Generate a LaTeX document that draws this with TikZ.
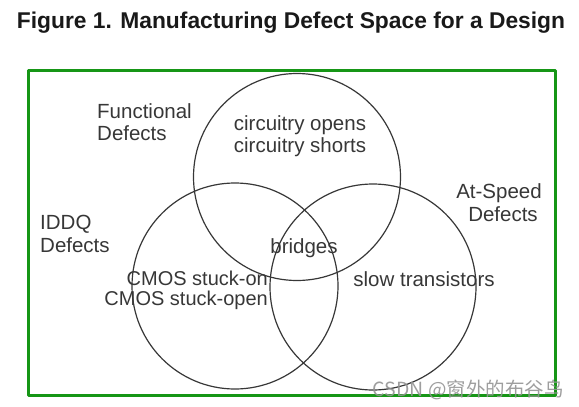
\documentclass[tikz,border=0pt]{standalone}
\usepackage{fontspec}
\setmainfont{Liberation Sans}
\newfontfamily\cjk{Noto Sans CJK SC}
\definecolor{framegreen}{RGB}{22,150,22}
\definecolor{ink}{RGB}{55,55,55}
\tikzset{
  lbl/.style={inner sep=0pt,text=ink,font=\fontsize{20.5}{23}\selectfont},
  ring/.style={line width=1.2pt,draw=ink},
}
\begin{document}
\begin{tikzpicture}[x=1pt,y=-1pt,line cap=round,line join=round]
  \useasboundingbox (0,0) rectangle (579,407);
  \node[anchor=base,inner sep=0pt,text=black!90,font=\bfseries\fontsize{22.8}{26}\selectfont] (title) at (291,28) {Figure 1. Manufacturing Defect Space for a Design};
  \draw[line width=3pt,framegreen] (28,70) rectangle (555,395);
  % the three defect classes
  \draw[ring] (297,177) circle (103.5pt);
  \draw[ring] (235,286) circle (103pt);
  \draw[ring] (373,287) circle (103pt);
  % class names
  \node[lbl,anchor=base west] (func1) at (97,118) {Functional};
  \node[lbl,anchor=base west] (func2) at (97,140) {Defects};
  \node[lbl,anchor=base west] (iddq1) at (40,229) {IDDQ};
  \node[lbl,anchor=base west] (iddq2) at (40,252) {Defects};
  \node[lbl,anchor=base] (speed1) at (499,198) {At-Speed};
  \node[lbl,anchor=base] (speed2) at (503,221) {Defects};
  % defects inside the circles
  \node[lbl,anchor=base] (opens) at (300,130) {circuitry opens};
  \node[lbl,anchor=base] (shorts) at (300,152) {circuitry shorts};
  \node[lbl,anchor=base] (bridges) at (304,253) {bridges};
  \node[lbl,anchor=base east,font=\fontsize{20}{22}\selectfont] (stuckon) at (268,285) {CMOS stuck-on};
  \node[lbl,anchor=base east,font=\fontsize{20}{22}\selectfont] (stuckopen) at (268,305) {CMOS stuck-open};
  \node[lbl,anchor=base] (slow) at (424,286) {slow transistors};
  \node[anchor=base east,inner sep=0pt,text=black!42,opacity=0.9,font=\cjk\fontsize{19.5}{21}\selectfont] (mark) at (564,396) {CSDN @窗外的布谷鸟};
\end{tikzpicture}
\end{document}
